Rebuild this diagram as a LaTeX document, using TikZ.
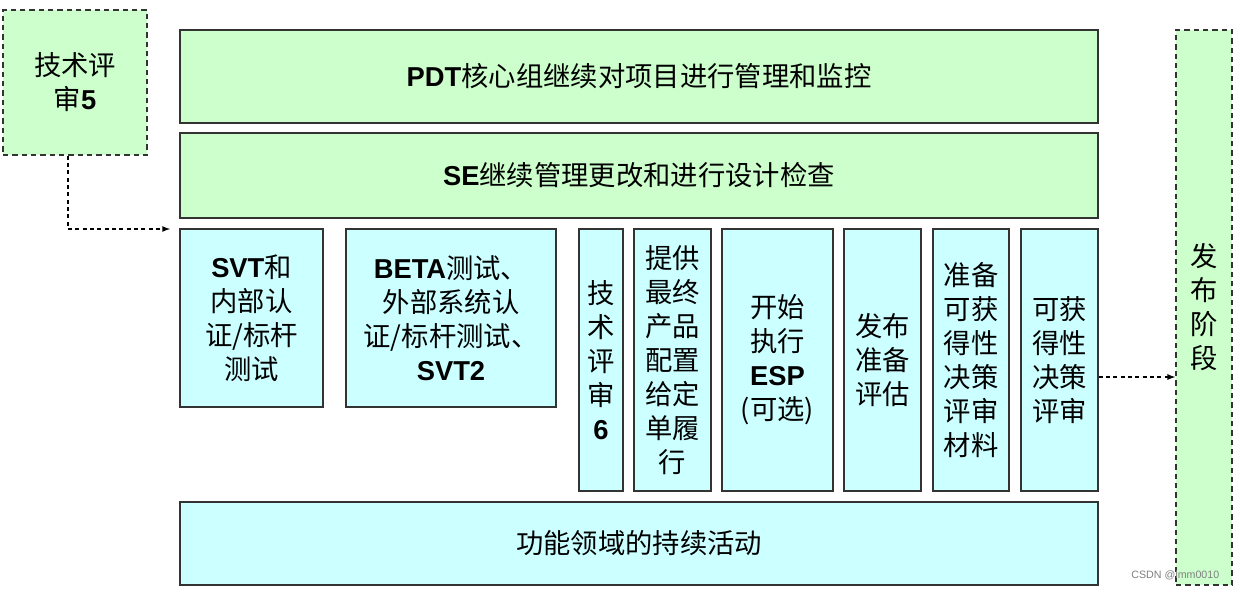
\documentclass[tikz,border=0pt]{standalone}
\usepackage{fontspec}
\setmainfont{Noto Sans CJK SC}
\newfontfamily\lb{Liberation Sans}
\newcommand\B[1]{{\lb\bfseries #1}}
\definecolor{gfill}{HTML}{CCFFCC}
\definecolor{cfill}{HTML}{CCFFFF}
\definecolor{edge}{HTML}{333333}
\tikzset{
 box/.style={draw=edge,line width=1.2pt,align=center,inner sep=0pt,font=\fontsize{20.5}{25.5}\selectfont},
 dbox/.style={box,dashed,dash pattern=on 4pt off 3pt},
 link/.style={draw=black,line width=1pt,dashed,dash pattern=on 3pt off 2.5pt,-latex}
}
\newcommand\bx[7][box]{\node[#1,fill=#6,minimum width={(#4-#2)*0.75pt},minimum height={(#5-#3)*0.75pt}] (#7) at ({(#2+#4)/2},{(#3+#5)/2})}
\begin{document}
\begin{tikzpicture}[x=0.75pt,y=-0.75pt]
\useasboundingbox[fill=white] (0,0) rectangle (1238,589);
\bx[dbox]{3}{10}{147}{155}{gfill}{t5}{技术评\\审\B{5}};
\bx{180}{30}{1098}{123}{gfill}{pdt}{\B{PDT}核心组继续对项目进行管理和监控};
\bx{180}{133}{1098}{218}{gfill}{se}{\B{SE}继续管理更改和进行设计检查};
\bx{180}{229}{323}{407}{cfill}{svt}{\B{SVT}和\\内部认\\证/标杆\\测试};
\bx{346}{229}{556}{407}{cfill}{beta}{\B{BETA}测试、\\外部系统认\\证/标杆测试、\\\B{SVT2}};
\bx{579}{229}{623}{491}{cfill}{t6}{技\\术\\评\\审\\\B{6}};
\bx{634}{229}{711}{491}{cfill}{cfg}{提供\\最终\\产品\\配置\\给定\\单履\\行};
\bx{722}{229}{833}{491}{cfill}{esp}{开始\\执行\\\B{ESP}\\(可选)};
\bx{844}{229}{921}{491}{cfill}{rel}{发布\\准备\\评估};
\bx{933}{229}{1009}{491}{cfill}{mat}{准备\\可获\\得性\\决策\\评审\\材料};
\bx{1021}{229}{1098}{491}{cfill}{adr}{可获\\得性\\决策\\评审};
\bx{180}{502}{1098}{585}{cfill}{func}{功能领域的持续活动};
\bx[dbox]{1176}{30}{1232}{585}{gfill}{phase}{发\\布\\阶\\段};
\coordinate (a1) at (170,229);
\draw[link] (t5.south -| 68,0) |- (a1);
\draw[link] (adr.east |- 0,377) -- (phase.west |- 0,377);
\node[font=\fontsize{8}{9}\selectfont\lb,text=gray,anchor=east] (wm) at (1224,575) {CSDN @lmm0010};
\end{tikzpicture}
\end{document}
